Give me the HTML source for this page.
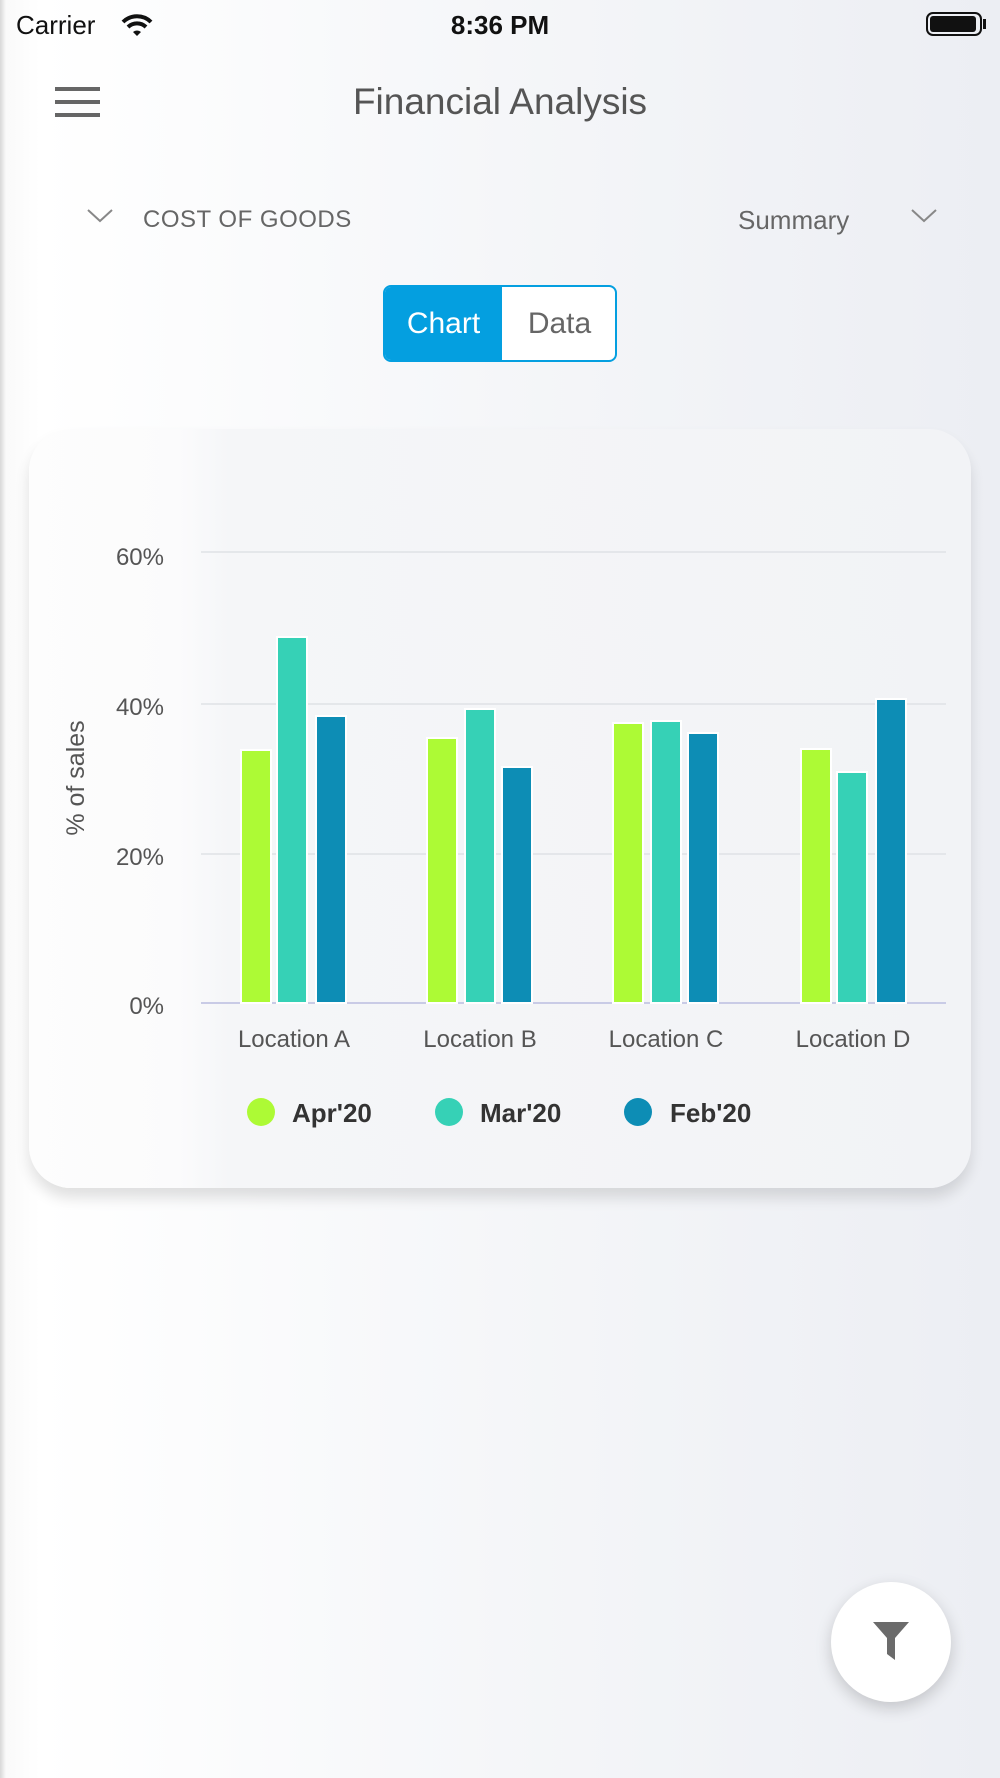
<!DOCTYPE html>
<html><head><meta charset="utf-8"><style>
html,body{margin:0;padding:0}
body{width:1000px;height:1778px;position:relative;overflow:hidden;font-family:"Liberation Sans",sans-serif;
background:linear-gradient(90deg,#d8d8d8 0,#fafafa 6px,#ffffff 40px,#f7f8fa 400px,#eceef3 1000px);}
.abs{position:absolute}
</style></head><body>
<div class="abs" style="left:16px;top:10px;font-size:26px;color:#111">Carrier</div>
<svg class="abs" style="left:120px;top:12px" width="34" height="26" viewBox="0 0 34 26">
<path d="M3 10 A20 20 0 0 1 31 10" stroke="#111" stroke-width="4" fill="none"/>
<path d="M8 15 A13 13 0 0 1 26 15" stroke="#111" stroke-width="4" fill="none"/>
<path d="M13 20 L17 24 L21 20 A6 6 0 0 0 13 20Z" fill="#111"/></svg>
<div class="abs" style="left:0;width:1000px;top:10px;text-align:center;font-size:26px;font-weight:bold;color:#111">8:36 PM</div>
<div class="abs" style="left:926px;top:12px;width:56px;height:24px;border:2px solid #111;border-radius:7px;box-sizing:border-box"></div>
<div class="abs" style="left:930px;top:16px;width:46px;height:16px;background:#111;border-radius:3px"></div>
<div class="abs" style="left:983px;top:19px;width:3px;height:10px;background:#111"></div>

<div class="abs" style="left:55px;top:87px;width:45px;height:4px;background:#666"></div>
<div class="abs" style="left:55px;top:100px;width:45px;height:4px;background:#666"></div>
<div class="abs" style="left:55px;top:113px;width:45px;height:4px;background:#666"></div>
<div class="abs" style="left:0;width:1000px;top:81px;text-align:center;font-size:37px;color:#555">Financial Analysis</div>

<svg class="abs" style="left:86px;top:208px" width="28" height="16"><path d="M2 2 L14 13 L26 2" stroke="#888" stroke-width="2" fill="none"/></svg>
<div class="abs" style="left:143px;top:206px;font-size:24px;color:#666;letter-spacing:0.5px">COST OF GOODS</div>
<div class="abs" style="left:738px;top:205px;font-size:26px;color:#666">Summary</div>
<svg class="abs" style="left:910px;top:208px" width="28" height="16"><path d="M2 2 L14 13 L26 2" stroke="#888" stroke-width="2" fill="none"/></svg>

<div class="abs" style="left:383px;top:285px;width:234px;height:77px;border:2px solid #049fe0;border-radius:8px;box-sizing:border-box;background:#fff;overflow:hidden">
<div style="position:absolute;left:0;top:0;width:117px;height:100%;background:#049fe0"></div>
<div style="position:absolute;left:0;width:117px;top:20px;text-align:center;color:#fff;font-size:30px">Chart</div>
<div style="position:absolute;left:117px;width:115px;top:20px;text-align:center;color:#666;font-size:30px">Data</div>
</div>

<div class="abs" style="left:29px;top:429px;width:942px;height:759px;border-radius:42px;background:linear-gradient(90deg,#fdfdfd 0,#fbfbfc 150px,#f5f6f8 200px,#f2f3f6 942px);box-shadow:0 10px 14px rgba(0,0,0,0.12)"></div>

<svg class="abs" style="left:0;top:0" width="1000" height="1778">
<g stroke="#dfe2e6" stroke-width="1.5">
<line x1="201" y1="552" x2="946" y2="552"/><line x1="201" y1="704" x2="946" y2="704"/><line x1="201" y1="854" x2="946" y2="854"/></g>
<line x1="201" y1="1003" x2="946" y2="1003" stroke="#c9cbe6" stroke-width="2"/>
<g font-size="24" fill="#555" text-anchor="end" font-family="Liberation Sans">
<text x="164" y="565">60%</text><text x="164" y="715">40%</text><text x="164" y="865">20%</text><text x="164" y="1014">0%</text></g>
<text transform="translate(84,778) rotate(-90)" text-anchor="middle" font-size="25" fill="#555" font-family="Liberation Sans">% of sales</text>
<g stroke="#fff" stroke-width="2">
<rect x="241" y="750" width="30" height="253" fill="#adfa35"/><rect x="277" y="637" width="30" height="366" fill="#36d1b6"/><rect x="316" y="716" width="30" height="287" fill="#0d8db5"/>
<rect x="427" y="738" width="30" height="265" fill="#adfa35"/><rect x="465" y="709" width="30" height="294" fill="#36d1b6"/><rect x="502" y="767" width="30" height="236" fill="#0d8db5"/>
<rect x="613" y="723" width="30" height="280" fill="#adfa35"/><rect x="651" y="721" width="30" height="282" fill="#36d1b6"/><rect x="688" y="733" width="30" height="270" fill="#0d8db5"/>
<rect x="801" y="749" width="30" height="254" fill="#adfa35"/><rect x="837" y="772" width="30" height="231" fill="#36d1b6"/><rect x="876" y="699" width="30" height="304" fill="#0d8db5"/>
</g>
<g font-size="24" fill="#555" text-anchor="middle" font-family="Liberation Sans">
<text x="294" y="1047">Location A</text><text x="480" y="1047">Location B</text><text x="666" y="1047">Location C</text><text x="853" y="1047">Location D</text></g>
<circle cx="261" cy="1112" r="14" fill="#adfa35"/><circle cx="449" cy="1112" r="14" fill="#36d1b6"/><circle cx="638" cy="1112" r="14" fill="#0d8db5"/>
<g font-size="26" font-weight="bold" fill="#333" font-family="Liberation Sans">
<text x="292" y="1122">Apr'20</text><text x="480" y="1122">Mar'20</text><text x="670" y="1122">Feb'20</text></g>
</svg>

<div class="abs" style="left:831px;top:1582px;width:120px;height:120px;border-radius:50%;background:#fff;box-shadow:0 6px 16px rgba(0,0,0,0.18)"></div>
<svg class="abs" style="left:871px;top:1620px" width="40" height="42"><path d="M2 2 H38 L24 18 V40 L16 34 V18 Z" fill="#6b6b6b"/></svg>
</body></html>
